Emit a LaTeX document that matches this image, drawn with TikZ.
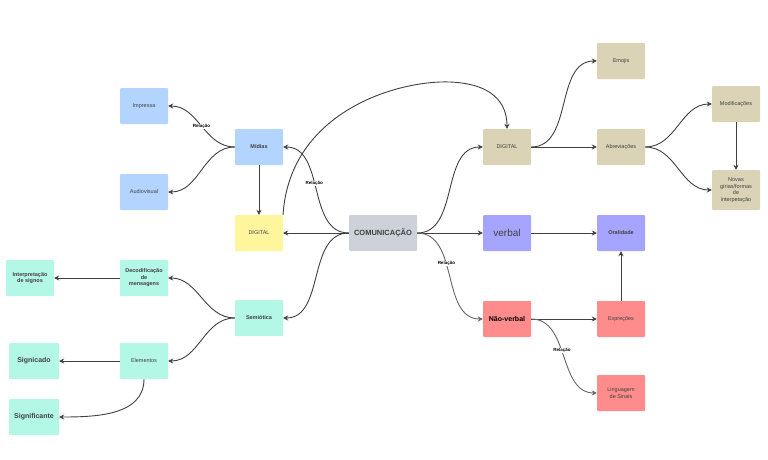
\documentclass[tikz,border=0pt]{standalone}
\usepackage{fontspec}
\setmainfont{Liberation Sans}
\usetikzlibrary{arrows.meta}
\begin{document}
\begin{tikzpicture}[x=1pt,y=-1pt,
  box/.style={minimum width=48pt,minimum height=36pt,inner sep=1pt,align=center,font=\fontsize{5.5}{6.5}\selectfont,text=black!75,rounded corners=1pt},
  e/.style={draw=black!75,line width=0.9pt,-{Stealth[length=5pt,width=5pt]}},
  lab/.style={font=\fontsize{4.5}{5}\selectfont\bfseries,fill=white,inner sep=0.5pt}]
\useasboundingbox (0,0) rectangle (768,460);
\definecolor{cblue}{HTML}{B3D4FF}
\definecolor{cyel}{HTML}{FFF59D}
\definecolor{ctan}{HTML}{DBD3B5}
\definecolor{cgray}{HTML}{CDD2D9}
\definecolor{cmint}{HTML}{B3F7E6}
\definecolor{cpur}{HTML}{A5A5FF}
\definecolor{cred}{HTML}{FF8C8C}
\node[box,fill=cgray,minimum width=68pt,font=\fontsize{7.5}{8}\selectfont\bfseries] (com) at (383,233) {COMUNICAÇÃO};
\node[box,fill=cblue] (imp) at (144,106) {Impressa};
\node[box,fill=cblue] (aud) at (144,192) {Audiovisual};
\node[box,fill=cblue,font=\fontsize{5.5}{6.5}\selectfont\bfseries] (mid) at (259,147) {Mídias};
\node[box,fill=cyel] (dy) at (259,233) {DIGITAL};
\node[box,fill=cmint,font=\fontsize{5.5}{6.5}\selectfont\bfseries] (dec) at (144,278) {Decodificação\\de\\mensagens};
\node[box,fill=cmint,font=\fontsize{5.5}{6.5}\selectfont\bfseries] (int) at (30,278) {Interpretação\\de signos};
\node[box,fill=cmint,font=\fontsize{5.5}{6.5}\selectfont\bfseries] (sem) at (259,318) {Semiótica};
\node[box,fill=cmint] (ele) at (144,361) {Elementos};
\node[box,fill=cmint,minimum width=50pt,font=\fontsize{7}{8}\selectfont\bfseries] (sig) at (34,361) {Signicado};
\node[box,fill=cmint,minimum width=50pt,font=\fontsize{7}{8}\selectfont\bfseries] (sgf) at (34,417) {Significante};
\node[box,fill=ctan] (dt) at (507,147) {DIGITAL};
\node[box,fill=ctan] (emo) at (621,61) {Emojis};
\node[box,fill=ctan] (abr) at (621,147) {Abreviações};
\node[box,fill=ctan] (mod) at (736,104) {Modificações};
\node[box,fill=ctan,minimum height=40pt] (nov) at (736,190) {Novas\\gírias/formas\\de\\interpetação};
\node[box,fill=cpur,font=\fontsize{10}{11}\selectfont] (ver) at (507,233) {verbal};
\node[box,fill=cpur,font=\fontsize{5.5}{6.5}\selectfont\bfseries] (ora) at (621,233) {Oralidade};
\node[box,fill=cred,font=\fontsize{7}{8}\selectfont\bfseries,text=black] (nv) at (507,319) {Não-verbal};
\node[box,fill=cred] (exp) at (621,319) {Expreções};
\node[box,fill=cred] (lin) at (621,393) {Linguagem\\de Sinais};
% edges from COMUNICACAO
\draw[e] (com.west) -- (dy.east);
\draw[e] (com.west) to[out=180,in=0] node[lab,pos=0.55] {Relação} (mid.east);
\draw[e] (com.west) to[out=180,in=0] (sem.east);
\draw[e] (com.east) to[out=0,in=180] (dt.west);
\draw[e] (com.east) -- (ver.west);
\draw[e,draw=black!60] (com.east) to[out=0,in=180] node[lab,pos=0.4] {Relação} (nv.west);
% left
\draw[e] (mid.west) to[out=180,in=0] node[lab,pos=0.5] {Relação} (imp.east);
\draw[e] (mid.west) to[out=180,in=0] (aud.east);
\draw[e] (mid.south) -- (dy.north);
\draw[e] ([xshift=24pt]dy.north) .. controls (290,110) and (400,80) .. (450,82) .. controls (500,84) and (507,110) .. (dt.north);
\draw[e] (sem.west) to[out=180,in=0] (dec.east);
\draw[e] (sem.west) to[out=180,in=0] (ele.east);
\draw[e] (dec.west) -- (int.east);
\draw[e] (ele.west) -- (sig.east);
\draw[e] (ele.south) to[out=-90,in=0] (sgf.east);
% right
\draw[e] (dt.east) to[out=0,in=180] (emo.west);
\draw[e] (dt.east) -- (abr.west);
\draw[e] (abr.east) to[out=0,in=180] (mod.west);
\draw[e] (abr.east) to[out=0,in=180] (nov.west);
\draw[e] (mod.south) -- (nov.north);
\draw[e] (ver.east) -- (ora.west);
\draw[e] (nv.east) -- (exp.west);
\draw[e] (exp.north) -- (ora.south);
\draw[e,draw=black!60] (nv.east) to[out=0,in=180] node[lab,pos=0.45] {Relação} (lin.west);
\end{tikzpicture}
\end{document}
